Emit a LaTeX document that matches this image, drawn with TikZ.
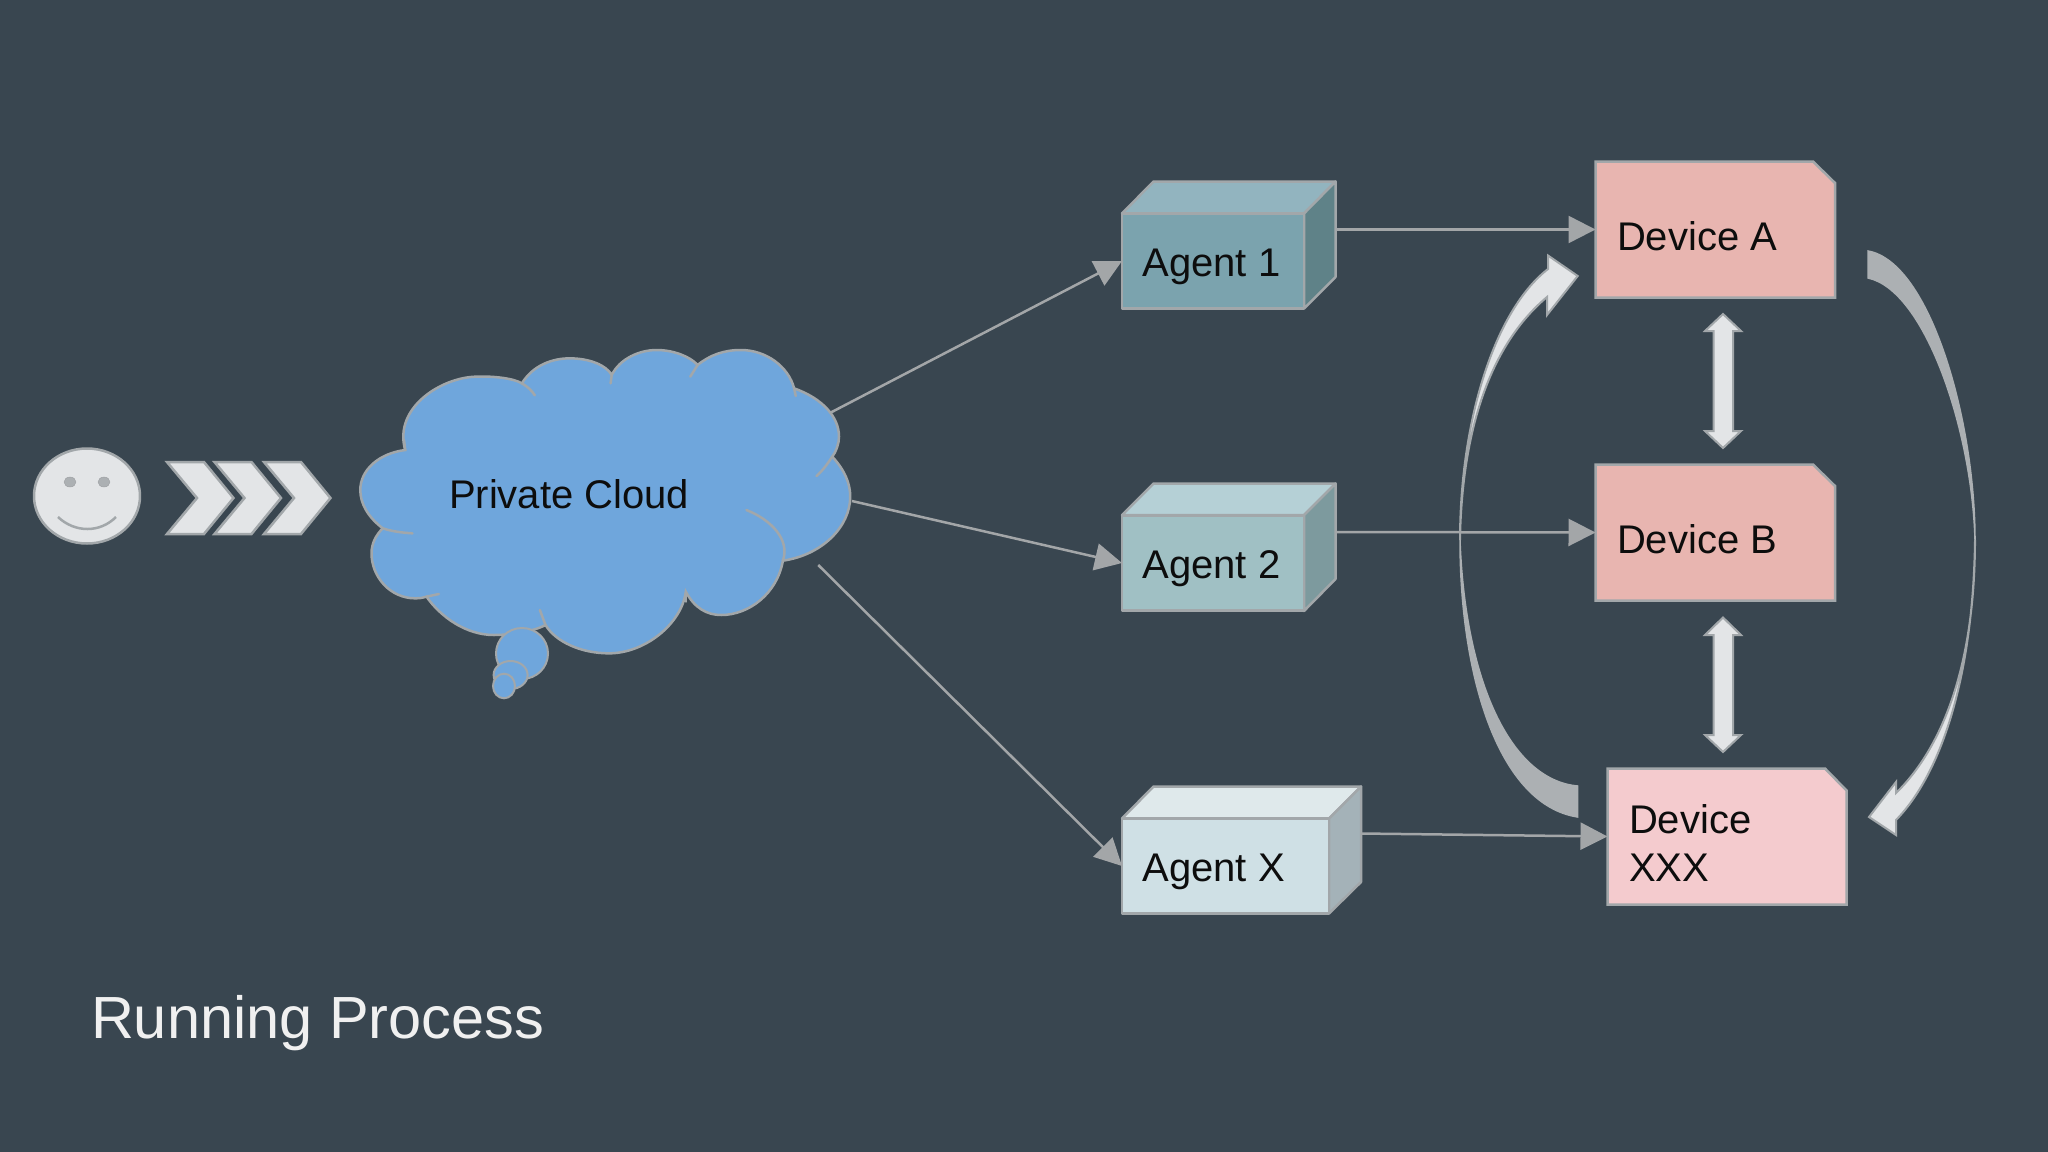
\documentclass[tikz,border=0pt]{standalone}
\usepackage{fontspec}
\setmainfont{Liberation Sans}
\usetikzlibrary{arrows.meta}
\definecolor{bgc}{HTML}{394650}
\definecolor{edgec}{HTML}{A2A7AA}
\definecolor{conc}{HTML}{A3A6A8}
\definecolor{cloudc}{HTML}{6FA6DC}
\definecolor{lightc}{HTML}{E3E5E7}
\definecolor{darkc}{HTML}{ACB0B3}
\definecolor{devc}{HTML}{E8B5B0}
\definecolor{devxc}{HTML}{F4CBCE}
\definecolor{aonef}{HTML}{7BA3AE}
\definecolor{aonet}{HTML}{92B4BF}
\definecolor{aones}{HTML}{5F8288}
\definecolor{atwof}{HTML}{A0C0C4}
\definecolor{atwot}{HTML}{B5D0D6}
\definecolor{atwos}{HTML}{7D9A9E}
\definecolor{axf}{HTML}{CFE0E5}
\definecolor{axt}{HTML}{DFE9EB}
\definecolor{axs}{HTML}{A4B2B8}
\tikzset{
  lbl/.style={inner sep=0pt,outer sep=0pt,text=black!95,font=\fontsize{40}{48}\selectfont,align=left},
  face/.style={draw=edgec,line width=2.5pt,line join=round},
  frontbox/.style={face,inner sep=0pt,outer sep=0pt,minimum width=#1,minimum height=95pt},
  devbox/.style={inner sep=0pt,outer sep=0pt,minimum width=240pt,minimum height=136pt},
  con/.style={draw=conc,line width=2.5pt,-{Triangle[length=27pt,width=27pt]}},
  lightshape/.style={fill=lightc,draw=edgec,line width=2pt,line join=miter},
  darkshape/.style={fill=darkc,draw=darkc,line width=1.5pt,line join=miter},
  cloudline/.style={draw=edgec,line width=2.5pt,line cap=round}
}
\begin{document}
\begin{tikzpicture}[x=1pt,y=-1pt]
\useasboundingbox (0,0) rectangle (2048,1151.8);
\fill[bgc] (-5,-5) rectangle (2053,1157);

% smiley
\draw[face,fill=lightc] (87,496) ellipse [x radius=53,y radius=47.5];
\fill[darkc,draw=darkc!90!black] (70,482) ellipse [x radius=6,y radius=5];
\fill[darkc,draw=darkc!90!black] (104,482) ellipse [x radius=6,y radius=5];
\draw[edgec,line width=2.5pt] (58,517) .. controls (75,533) and (100,533) .. (116,517);

% chevrons
\foreach \dx in {0,47.5,97}
  \draw[face,fill=lightc,line join=miter,xshift=\dx pt] (167,462) -- (204,462) -- (233.5,498) -- (204,534) -- (167,534) -- (197,498) -- cycle;

% cloud
\begin{scope}[x=0.5612pt,y=-0.33333pt,yshift=-320pt]
\path[fill=cloudc,cloudline]
 (722,390) .. controls (700,260) and (790,170) .. (850,170)
 .. controls (880,168) and (915,175) .. (930,190)
 .. controls (950,135) and (985,115) .. (1015,115) .. controls (1050,115) and (1080,135) .. (1090,165)
 .. controls (1105,115) and (1140,90) .. (1170,90) .. controls (1200,90) and (1230,110) .. (1243,135)
 .. controls (1265,105) and (1290,90) .. (1320,90) .. controls (1365,90) and (1405,140) .. (1415,205)
 .. controls (1465,235) and (1495,290) .. (1495,350) .. controls (1495,370) and (1490,395) .. (1483,410)
 .. controls (1505,450) and (1515,490) .. (1515,530) .. controls (1515,620) and (1465,705) .. (1395,722)
 .. controls (1385,820) and (1335,885) .. (1285,885) .. controls (1260,885) and (1238,865) .. (1222,815)
 .. controls (1215,910) and (1150,1000) .. (1085,1000) .. controls (1035,1000) and (990,965) .. (972,915)
 .. controls (950,935) and (910,945) .. (880,945) .. controls (830,945) and (785,890) .. (760,830)
 .. controls (750,835) and (745,835) .. (740,835) .. controls (695,835) and (662,770) .. (662,700)
 .. controls (662,670) and (670,645) .. (682,625)
 .. controls (655,590) and (642,550) .. (642,510) .. controls (642,450) and (675,400) .. (722,390) -- cycle;
\draw[cloudline] (930,190) .. controls (940,200) and (948,212) .. (953,226);
\draw[cloudline] (1090,165) -- (1088,190);
\draw[cloudline] (1243,135) -- (1230,170);
\draw[cloudline] (1415,205) -- (1418,228);
\draw[cloudline] (1483,410) .. controls (1475,430) and (1467,450) .. (1455,468);
\draw[cloudline] (1395,722) .. controls (1408,660) and (1375,600) .. (1330,570);
\draw[cloudline] (1222,815) -- (1222,845);
\draw[cloudline] (972,915) -- (962,870);
\draw[cloudline] (760,830) -- (782,822);
\draw[cloudline] (682,625) .. controls (698,634) and (716,638) .. (735,640);
\draw[cloudline] (722,390) -- (720,360);
\coordinate (c1) at (1481,277);
\coordinate (c2) at (1518,543);
\coordinate (c3) at (1458,735);
\end{scope}
\filldraw[fill=cloudc,draw=edgec,line width=2pt] (522,653.5) ellipse [x radius=26,y radius=25.5];
\filldraw[fill=cloudc,draw=edgec,line width=2pt] (510.6,675) ellipse [x radius=17,y radius=14];
\filldraw[fill=cloudc,draw=edgec,line width=2pt] (504,686) ellipse [x radius=11,y radius=12.3];
\node[lbl,anchor=base west] (cloudlabel) at (449,508) {Private Cloud};

% agent 1
\filldraw[face,fill=aonet] (1122,213.5) -- (1153.5,181.5) -- (1335.5,181.5) -- (1304,213.5) -- cycle;
\filldraw[face,fill=aones] (1304,213.5) -- (1335.5,181.5) -- (1335.5,277) -- (1304,308.5) -- cycle;
\node[frontbox=182pt,fill=aonef] (a1) at (1213,261) {};
\node[lbl,anchor=base west] (a1t) at (1142.5,276) {Agent 1};
\coordinate (a1r) at (1335.5,229.5);
% agent 2
\filldraw[face,fill=atwot] (1122,515) -- (1153.5,483.5) -- (1335.5,483.5) -- (1304,515) -- cycle;
\filldraw[face,fill=atwos] (1304,515) -- (1335.5,483.5) -- (1335.5,579) -- (1304,611) -- cycle;
\node[frontbox=182pt,fill=atwof] (a2) at (1213,563) {};
\node[lbl,anchor=base west] (a2t) at (1142.5,578) {Agent 2};
\coordinate (a2r) at (1335.5,532);
% agent X
\filldraw[face,fill=axt] (1122,818.5) -- (1153.5,786.5) -- (1361,786.5) -- (1329,818.5) -- cycle;
\filldraw[face,fill=axs] (1329,818.5) -- (1361,786.5) -- (1361,882) -- (1329,913.5) -- cycle;
\node[frontbox=207pt,fill=axf] (ax) at (1225.5,866) {};
\node[lbl,anchor=base west] (axt) at (1142.5,881) {Agent X};
\coordinate (axr) at (1361,833.5);

% devices
\filldraw[face,fill=devc,line join=miter] (1595.5,161.5) -- (1813,161.5) -- (1835,183) -- (1835,297.5) -- (1595.5,297.5) -- cycle;
\node[devbox] (da) at (1715.5,229.5) {};
\node[lbl,anchor=base west] (dat) at (1617,250) {Device A};
\filldraw[face,fill=devc,line join=miter] (1595.5,464.5) -- (1813,464.5) -- (1835,486) -- (1835,600.5) -- (1595.5,600.5) -- cycle;
\node[devbox] (db) at (1715.5,532.5) {};
\node[lbl,anchor=base west] (dbt) at (1617,553) {Device B};
\filldraw[face,fill=devxc,line join=miter] (1607.5,768.5) -- (1825,768.5) -- (1846.5,790.5) -- (1846.5,904.5) -- (1607.5,904.5) -- cycle;
\node[devbox] (dx) at (1727.5,836.5) {};
\node[lbl,anchor=west] (dxt) at (1629,843) {Device\\XXX};

% double arrows
\filldraw[lightshape] (1723,314) -- (1741,331) -- (1733,331) -- (1733,431) -- (1741,431) -- (1723,448) -- (1705,431) -- (1713.5,431) -- (1713.5,331) -- (1705,331) -- cycle;
\filldraw[lightshape] (1723,617.5) -- (1741,635) -- (1733,635) -- (1733,735) -- (1741,735) -- (1723,752) -- (1705,735) -- (1713.5,735) -- (1713.5,635) -- (1705,635) -- cycle;

% left curved arrow
\filldraw[darkshape] (1577.7,817) .. controls (1500,805) and (1460,680) .. (1460,540)
  .. controls (1465,680) and (1510,780) .. (1577.7,786) -- cycle;
\filldraw[lightshape] (1460,540) .. controls (1460,420) and (1495,310) .. (1548,269)
  -- (1548,255.5) -- (1577.7,276) -- (1547,315) -- (1547,297)
  .. controls (1490,345) and (1462,430) .. (1460,540) -- cycle;

% right curved arrow
\filldraw[darkshape] (1868,251) .. controls (1930,262) and (1975,420) .. (1975,540)
  .. controls (1972,430) and (1925,290) .. (1868,278) -- cycle;
\filldraw[lightshape] (1975,540) .. controls (1975,670) and (1940,750) .. (1896,793)
  -- (1896,782) -- (1869,817) -- (1896,835) -- (1896,820)
  .. controls (1940,775) and (1973,680) .. (1975,540) -- cycle;

% connectors
\draw[con] (c1) -- (a1.west);
\draw[con] (c2) -- (a2.west);
\draw[con] (c3) -- (ax.west);
\draw[con] (a1r) -- (da.west);
\draw[con] (a2r) -- (db.west);
\draw[con] (axr) -- (dx.west);

% title
\node[inner sep=0pt,outer sep=0pt,anchor=base west,text=white!94!black,font=\fontsize{59.5}{72}\selectfont] (title) at (91,1038) {Running Process};
\end{tikzpicture}
\end{document}
